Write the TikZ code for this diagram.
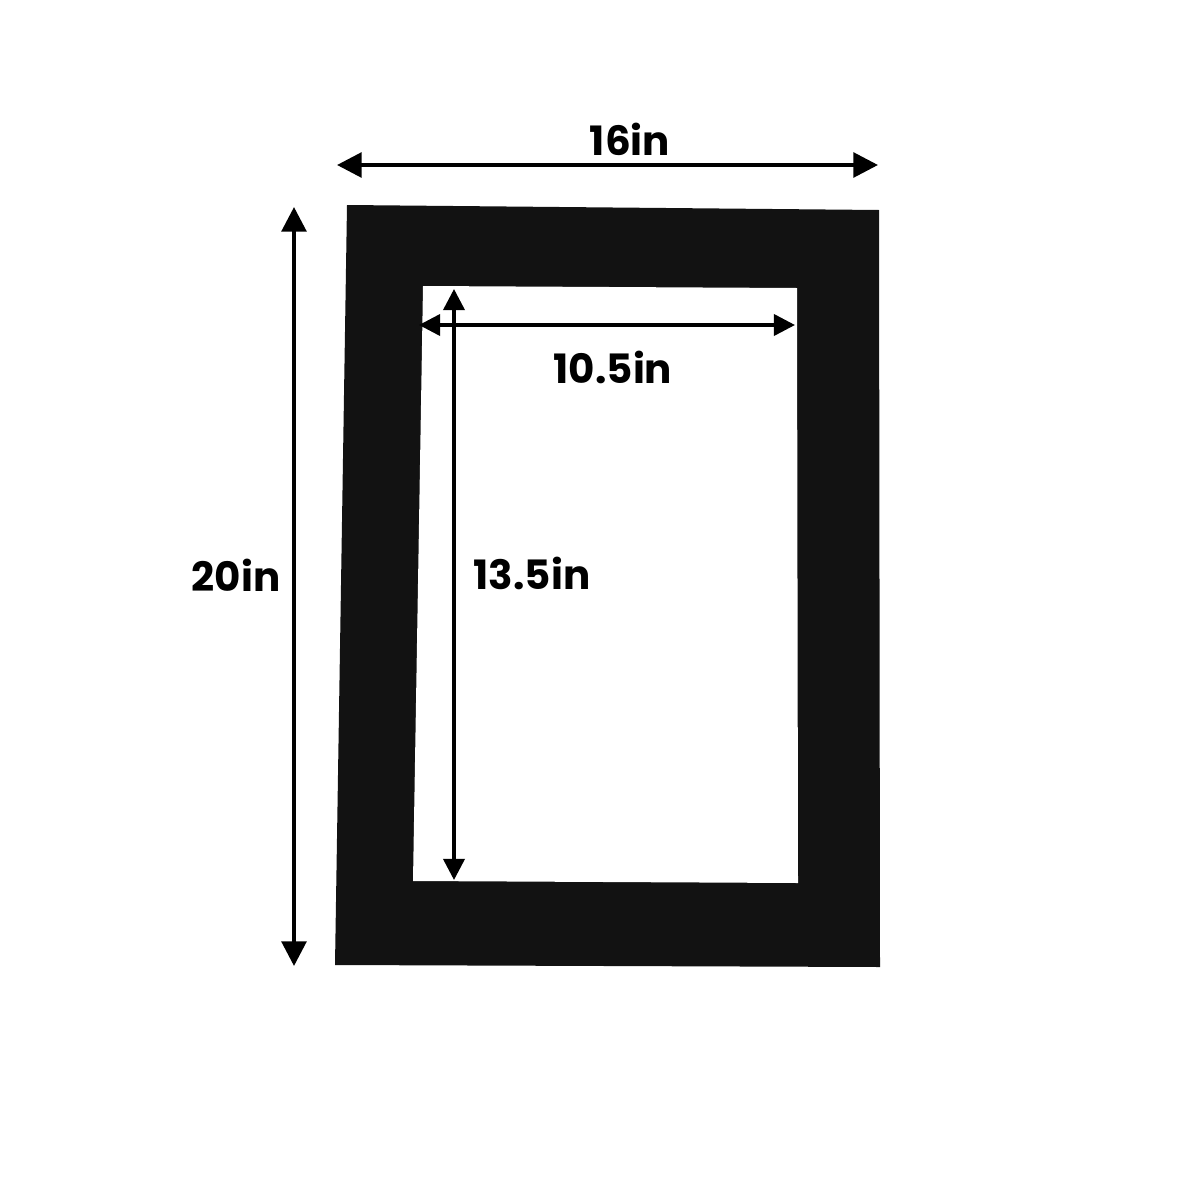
\documentclass[tikz,border=0pt]{standalone}
\usepackage{fontspec}
\setmainfont{Poppins}
\usetikzlibrary{arrows.meta}
\begin{document}
\begin{tikzpicture}[x=0.01cm,y=-0.01cm,
  dim/.style={line width=1.1pt,{Triangle[length=7pt,width=7pt]}-{Triangle[length=7pt,width=7pt]}},
  dimin/.style={line width=1pt,{Triangle[length=6pt,width=6pt]}-{Triangle[length=6pt,width=6pt]}},
  lbl/.style={font=\fontsize{11.5}{13}\selectfont\bfseries,inner sep=0pt}]
\useasboundingbox (0,0) rectangle (1200,1200);
% frame
\fill[black!93] (347,205) -- (879,210) -- (880,967) -- (335,965) -- cycle;
\fill[white] (423,286) -- (797,288) -- (798,883) -- (413,881) -- cycle;
% outer dimensions
\coordinate (wL) at (337,165);
\coordinate (wR) at (878,165);
\draw[dim] (wL) -- (wR);
\node[lbl] (w) at (630,139) {16in};
\coordinate (hT) at (294,207);
\coordinate (hB) at (294,966);
\draw[dim] (hT) -- (hB);
\node[lbl] (h) at (236,575) {20in};
% inner dimensions
\coordinate (iwL) at (419,325);
\coordinate (iwR) at (795,325);
\draw[dimin] (iwL) -- (iwR);
\node[lbl] (iw) at (613,367) {10.5in};
\coordinate (ihT) at (454,289);
\coordinate (ihB) at (454,880);
\draw[dimin] (ihT) -- (ihB);
\node[lbl] (ih) at (532,573) {13.5in};
\end{tikzpicture}
\end{document}
